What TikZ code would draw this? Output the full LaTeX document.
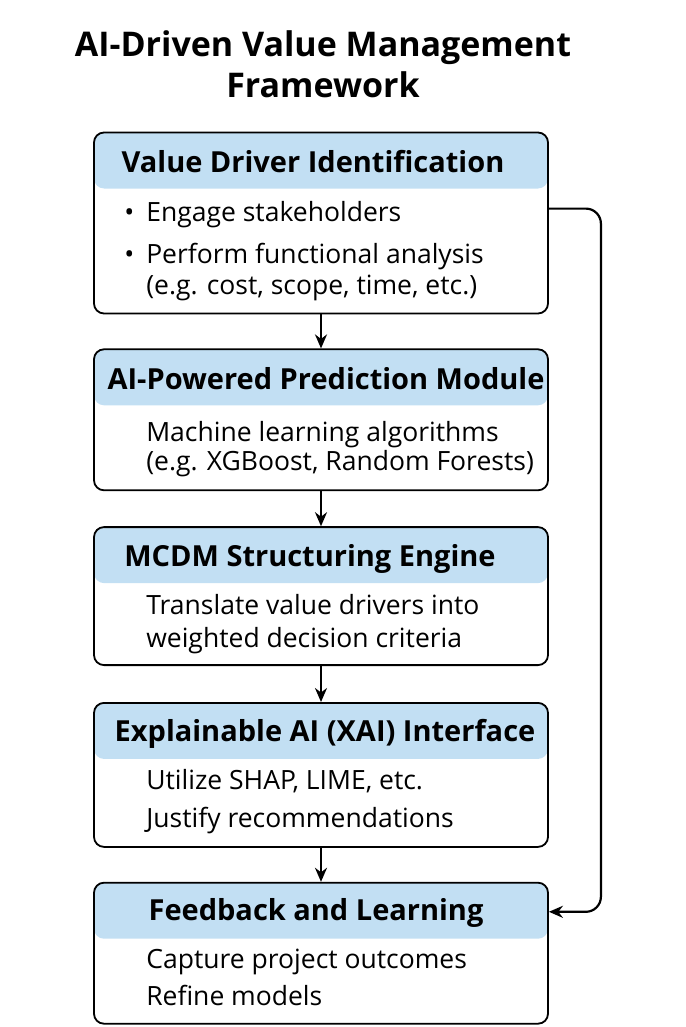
\documentclass[tikz,border=0pt]{standalone}
\usepackage{fontspec}
\setmainfont{Open Sans}
\usetikzlibrary{arrows.meta, positioning}

\definecolor{headblue}{RGB}{194,223,243}

\begin{document}
\begin{tikzpicture}[
    card/.style={draw, line width=1.8pt, rounded corners=10pt, minimum width=454pt, inner sep=0pt,
        path picture={\fill[headblue] (path picture bounding box.north west) rectangle ([yshift=-56pt]path picture bounding box.north east);}},
    head/.style={anchor=base, inner sep=0pt, font=\fontsize{29}{34}\selectfont\bfseries},
    txt/.style={anchor=base west, inner sep=0pt, font=\fontsize{26.5}{31}\selectfont},
    title/.style={anchor=base, inner sep=0pt, font=\fontsize{34}{40}\selectfont\bfseries},
    arrow/.style={-{Stealth[length=14pt, width=12pt]}, line width=2.2pt},
]
    \useasboundingbox (0,0) rectangle (685pt,-1027pt);

    \node[title] (title1) at (323pt,-57pt) {AI-Driven Value Management};
    \node[title] (title2) at (323pt,-98pt) {Framework};

    \node[card, minimum height=181pt] (vdi) at (321pt,-223pt) {};
    \node[card, minimum height=141pt, below=34pt of vdi] (aipm) {};
    \node[card, minimum height=138pt, below=35pt of aipm] (mcdm) {};
    \node[card, minimum height=144pt, below=36pt of mcdm] (xai) {};
    \node[card, minimum height=141pt, below=34pt of xai] (fbl) {};

    % headings
    \node[head] at ([xshift=-8pt, yshift=-41pt]vdi.north) {Value Driver Identification};
    \node[head] at ([xshift=5pt, yshift=-41pt]aipm.north) {AI-Powered Prediction Module};
    \node[head] at ([xshift=-11pt, yshift=-40pt]mcdm.north) {MCDM Structuring Engine};
    \node[head] at ([xshift=4pt, yshift=-39pt]xai.north) {Explainable AI (XAI) Interface};
    \node[head] at ([xshift=-5pt, yshift=-39pt]fbl.north) {Feedback and Learning};

    % body text
    \node[txt] at ([xshift=31pt, yshift=-90pt]vdi.north west) {\makebox[22pt][l]{\textbullet}Engage stakeholders};
    \node[txt] at ([xshift=31pt, yshift=-132pt]vdi.north west) {\makebox[22pt][l]{\textbullet}Perform functional analysis};
    \node[txt] at ([xshift=53pt, yshift=-163pt]vdi.north west) {(e.g. cost, scope, time, etc.)};

    \node[txt] at ([xshift=53pt, yshift=-93pt]aipm.north west) {Machine learning algorithms};
    \node[txt] at ([xshift=53pt, yshift=-122pt]aipm.north west) {(e.g. XGBoost, Random Forests)};

    \node[txt] at ([xshift=53pt, yshift=-88pt]mcdm.north west) {Translate value drivers into};
    \node[txt] at ([xshift=53pt, yshift=-121pt]mcdm.north west) {weighted decision criteria};

    \node[txt] at ([xshift=53pt, yshift=-87pt]xai.north west) {Utilize SHAP, LIME, etc.};
    \node[txt] at ([xshift=53pt, yshift=-125pt]xai.north west) {Justify recommendations};

    \node[txt] at ([xshift=53pt, yshift=-87pt]fbl.north west) {Capture project outcomes};
    \node[txt] at ([xshift=53pt, yshift=-124pt]fbl.north west) {Refine models};

    % flow
    \draw[arrow] (vdi) -- (aipm);
    \draw[arrow] (aipm) -- (mcdm);
    \draw[arrow] (mcdm) -- (xai);
    \draw[arrow] (xai) -- (fbl);

    % feedback loop
    \draw[arrow, rounded corners=15pt] ([yshift=-77pt]vdi.north east) -- ++(52pt,0) |- ([yshift=-30pt]fbl.north east);
\end{tikzpicture}
\end{document}
